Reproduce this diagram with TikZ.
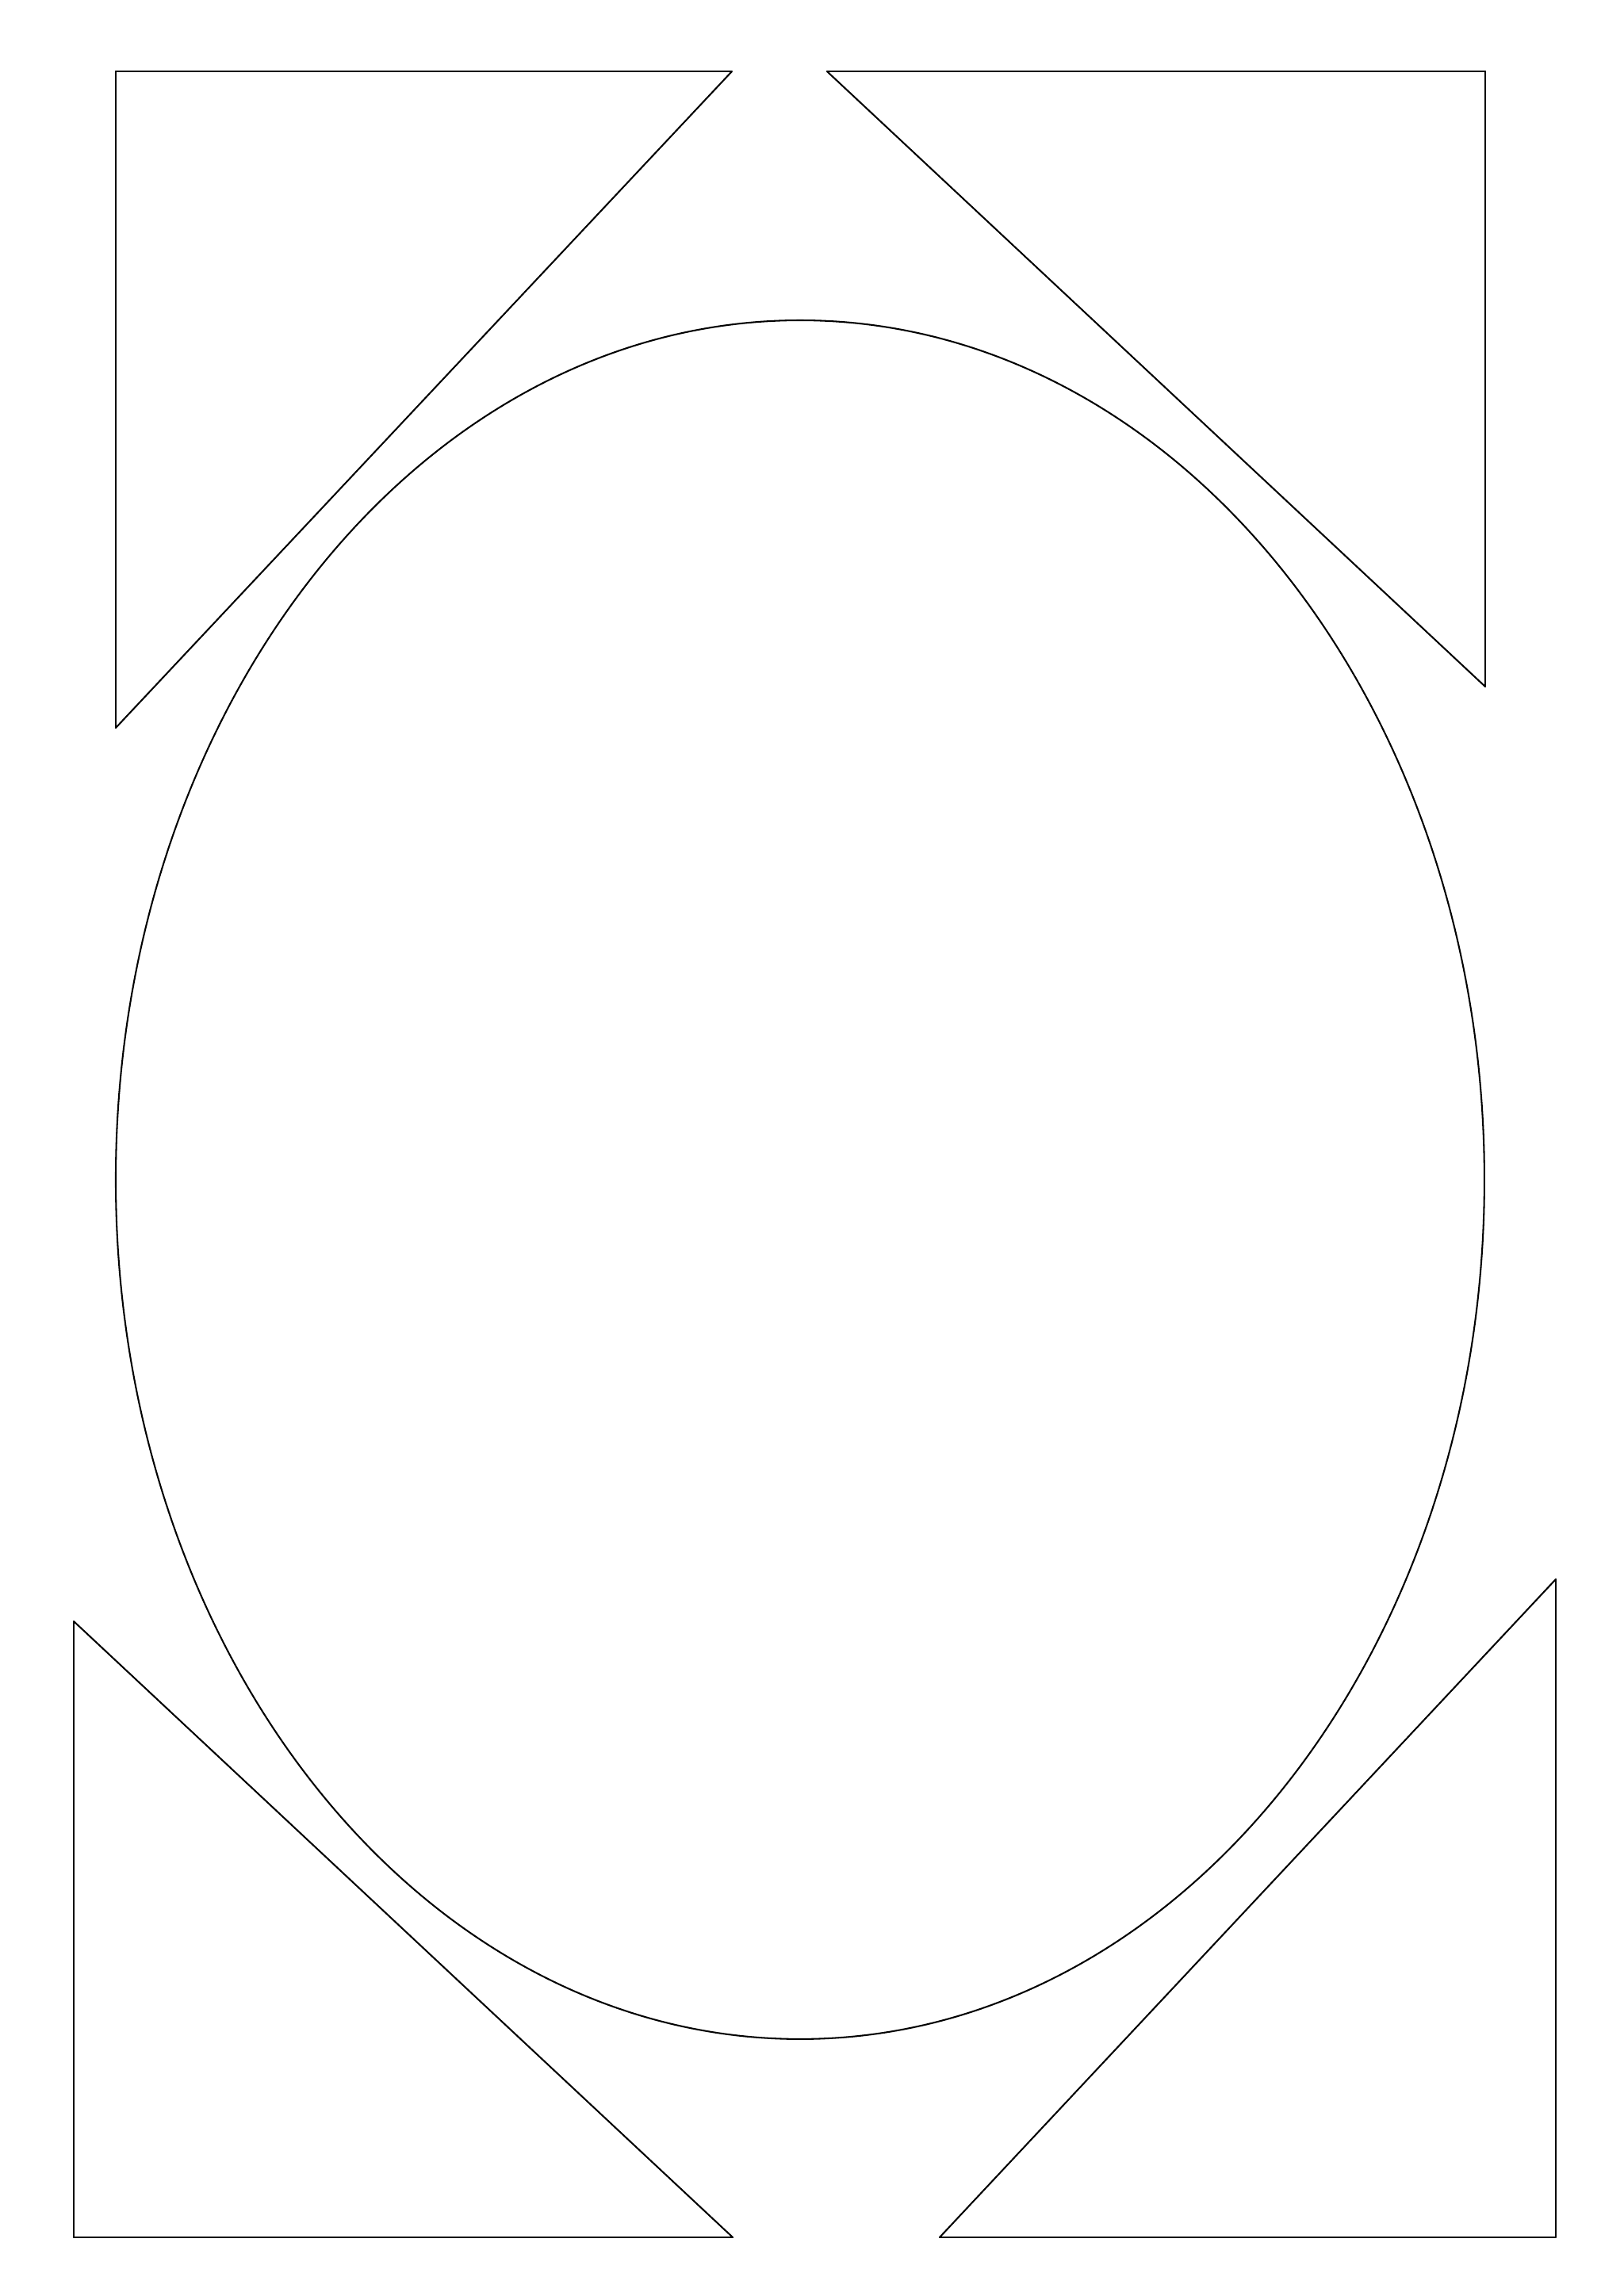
\documentclass[tikz,border=0pt]{standalone}
\usepackage{amsmath}
\usepackage{amssymb}
\usepackage{pgf,tikz}
\usetikzlibrary{arrows}
\begin{document}
\begin{tikzpicture}[line cap=round,line join=round,x=1.0cm,y=1.0cm]
\useasboundingbox (0.,0.) rectangle (21.,29.696);
%\fill[white] (0.,0.) rectangle (21.,29.696);
\draw [line width=0.6pt] (1.497,28.772)-- (9.464,28.772);
\draw [line width=0.6pt] (9.464,28.772)-- (1.497,20.282);
\draw [line width=0.6pt] (1.497,20.282)-- (1.497,28.772);
\draw [line width=0.6pt] (10.695,28.772)-- (19.206,28.772);
\draw [line width=0.6pt] (19.206,28.772)-- (19.206,20.815);
\draw [line width=0.6pt] (19.206,20.815)-- (10.695,28.772);
\draw [line width=0.6pt] (10.346,14.438) ellipse (8.849cm and 11.115cm);
\draw [line width=0.6pt] (0.954,8.726)-- (0.954,0.759);
\draw [line width=0.6pt] (0.954,0.759)-- (9.475,0.759);
\draw [line width=0.6pt] (9.475,0.759)-- (0.954,8.726);
\draw [line width=0.6pt] (12.151,0.759)-- (20.118,0.759);
\draw [line width=0.6pt] (20.118,0.759)-- (20.118,9.270);
\draw [line width=0.6pt] (20.118,9.270)-- (12.151,0.759);
\end{tikzpicture}
\end{document}
